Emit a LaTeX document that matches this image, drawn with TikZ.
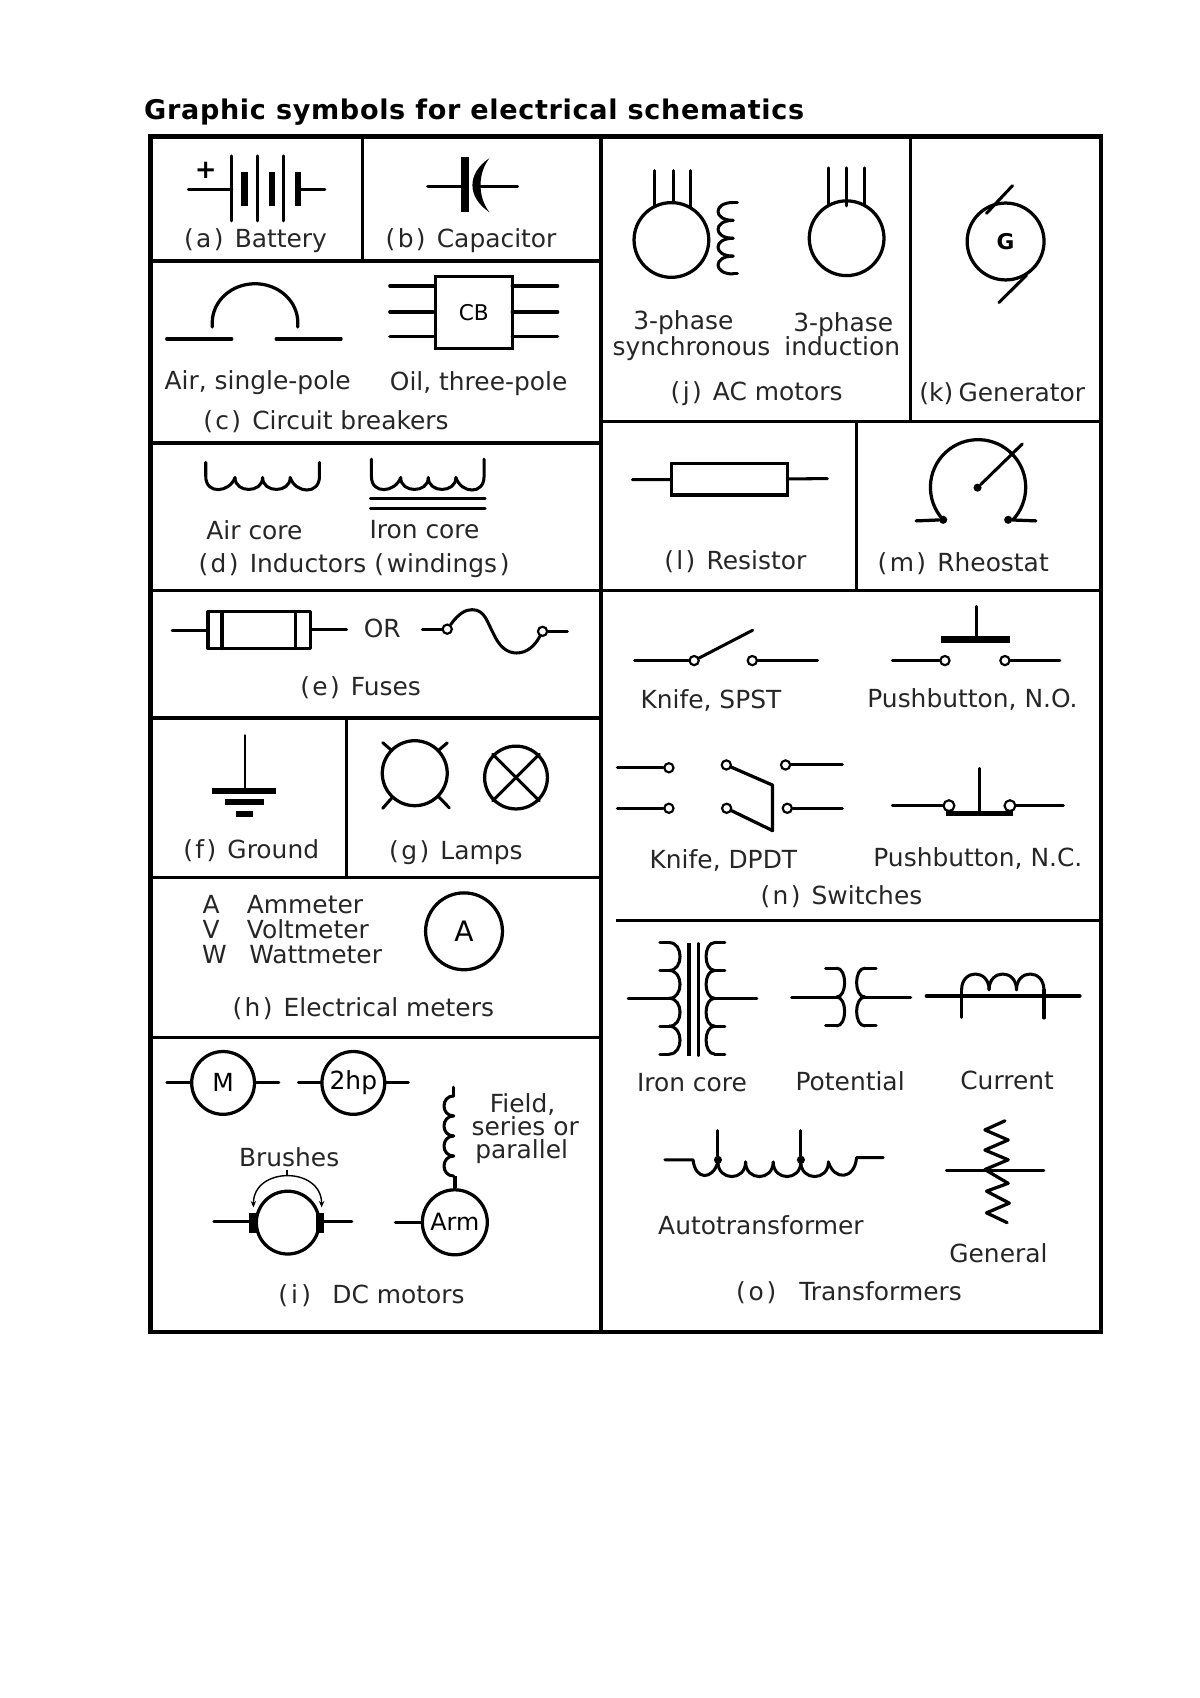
\documentclass[tikz,border=0pt]{standalone}
\usepackage{fontspec}
\setmainfont{DejaVu Sans}
\usetikzlibrary{arrows.meta}
\tikzset{
  frame/.style={line width=4pt,line cap=rect},
  cell/.style={line width=3pt,line cap=rect},
  wire/.style={line width=2.8pt,line cap=round,line join=round},
  thinwire/.style={line width=1.3pt},
  bar/.style={line width=5.5pt},
  lbl/.style={font=\fontsize{23}{25}\selectfont,text=black!85,inner sep=0pt,text height=16pt,text depth=0pt},
  term/.style={circle,draw,line width=2pt,fill=white,inner sep=0pt,minimum size=8.5pt},
  dial/.style={circle,draw,line width=3pt,inner sep=0pt,minimum size=58pt,font=\fontsize{23}{25}\selectfont},
  blob/.style={circle,fill,inner sep=0pt,minimum size=7.5pt}
}
% x, top, bump height, bulge, count
\newcommand{\vcoil}[5]{%
  \foreach \k in {1,...,#5}{
    \draw[wire] (#1,{#2+(\k-1)*#3}) .. controls ({#1+1.33*(#4)},{#2+(\k-1)*#3}) and ({#1+1.33*(#4)},{#2+\k*#3}) .. (#1,{#2+\k*#3});
  }}
% left, y, bump width, bulge, count
\newcommand{\hcoil}[5]{%
  \foreach \k in {1,...,#5}{
    \draw[wire] ({#1+(\k-1)*#3},#2) .. controls ({#1+(\k-1)*#3},{#2+1.33*(#4)}) and ({#1+\k*#3},{#2+1.33*(#4)}) .. ({#1+\k*#3},#2);
  }}
% the wide brackets of the captions
\newcommand{\ptag}[1]{(\kern2.2pt#1\kern2.2pt)\kern3pt\ }
\begin{document}
\begin{tikzpicture}[x=1pt,y=1pt,yscale=-1]
\useasboundingbox (0,0) rectangle (1108,1568);
\node[anchor=base west,inner sep=0pt,font=\fontsize{25}{28}\selectfont\bfseries\addfontfeature{LetterSpace=2.4}] (title) at (133,110) {Graphic symbols for electrical schematics};
% frame and cells
\draw[frame] (139,126) rectangle (1017,1230);
\draw[frame] (555,126) -- (555,1230);
\foreach \yy in {241,409,545,663,810,958} \draw[cell] (139,\yy) -- (555,\yy);
\draw[cell] (335,126) -- (335,241);
\draw[cell] (320,663) -- (320,810);
\draw[cell] (555,389) -- (1017,389);
\draw[cell] (841,126) -- (841,389);
\draw[cell] (555,545) -- (1017,545);
\draw[cell] (791,389) -- (791,545);
\draw[cell] (570,850) -- (1017,850);
% (a) battery
\draw[wire] (174,175) -- (214,175);
\draw[wire] (275,175) -- (300,175);
\foreach \xx in {214,238,262} \draw[wire] (\xx,144) -- (\xx,204);
\foreach \xx in {226,251,275} \draw[line width=6pt] (\xx,159) -- (\xx,190);
\node[font=\fontsize{24}{26}\selectfont\bfseries,inner sep=0pt] (plus) at (190,157) {+};
\node[lbl] (lbatt) at (236,221) {\ptag{a}Battery};
% (b) capacitor
\draw[wire] (395,172) -- (426,172);
\draw[wire] (441,172) -- (478,172);
\draw[line width=7pt] (429.5,145) -- (429.5,196);
\fill (452,146) .. controls (431,160) and (431,182) .. (452,196) .. controls (441,182) and (441,160) .. (452,146) -- cycle;
\node[lbl] (lcap) at (435,221) {\ptag{b}Capacitor};
% (c) breakers
\draw[wire,line width=3pt] (154,313) -- (214,313);
\draw[wire,line width=3pt] (255,313) -- (315,313);
\draw[wire,line width=3pt] (196,302) -- (196,298) arc[start angle=180,end angle=360,x radius=39.5,y radius=36] -- (275,302);
\node[draw,line width=3pt,minimum width=71pt,minimum height=67pt,inner sep=0pt,font=\fontsize{20}{22}\selectfont] (cb) at (437.5,288.5) {CB};
\foreach \yy in {264,288,311} {
  \draw[wire,line width=3pt] (360,\yy) -- (402,\yy);
  \draw[wire,line width=3pt] (473,\yy) -- (515,\yy);
}
\node[lbl] (lair) at (238,352) {Air, single-pole};
\node[lbl] (loil) at (442,353) {Oil, three-pole};
\node[lbl] (lcb) at (301,389) {\ptag{c}Circuit breakers};
% (d) inductors
\draw[wire] (190,427) -- (190,440) .. controls (190,457) and (212,455) .. (217,441);
\hcoil{217}{441}{25.5}{11}{2}
\draw[wire] (268,441) .. controls (273,456) and (295,457) .. (295,440) -- (295,427);
\begin{scope}[shift={(153,0)}]
  \draw[wire] (190,424) -- (190,440) .. controls (190,457) and (212,455) .. (217,441);
  \hcoil{217}{441}{25.5}{11}{2}
  \draw[wire] (268,441) .. controls (273,456) and (294,457) .. (294,440) -- (294,424);
\end{scope}
\draw[wire] (342,460) -- (448,460);
\draw[wire] (342,470) -- (448,470);
\node[lbl] (lacore) at (235,490) {Air core};
\node[lbl] (licore) at (392,489) {Iron core};
\node[lbl] (lind) at (327,521) {\ptag{d}Inductors (\kern2.5pt windings\kern2.5pt)};
% (e) fuses
\draw[wire] (159,582) -- (192,582);
\draw[wire] (287,581) -- (320,581);
\draw[wire,line width=3pt] (192,565) rectangle (287,599);
\draw[wire] (205,565) -- (205,599);
\draw[wire] (273,565) -- (273,599);
\node[lbl] (lor) at (353,581) {OR};
\node[term] (fa) at (413,581) {};
\node[term] (fb) at (501,583) {};
\draw[wire] (390,581) -- (fa);
\draw[wire] (fb) -- (524,583);
\draw[wire] (fa) .. controls (424,566) and (430,563) .. (436,563) .. controls (448,563) and (450,575) .. (455.6,585) .. controls (461,597) and (468,603) .. (477,603) .. controls (487,603) and (494,596) .. (fb);
\node[lbl] (lfuse) at (333,634) {\ptag{e}Fuses};
% (f) ground
\draw[wire,line width=2pt] (226,679) -- (226,730);
\draw[bar] (196,730) -- (255,730);
\draw[bar] (208,741) -- (244,741);
\draw[bar] (218,752) -- (234,752);
\node[lbl] (lgnd) at (232,785) {\ptag{f}Ground};
% (g) lamps
\node[circle,draw,line width=3pt,inner sep=0pt,minimum width=60pt,minimum height=60pt] (lampa) at (383,714) {};
\draw[wire] (353.4,685.8) -- (361.7,693);
\draw[wire] (413,686) -- (404.8,693);
\draw[wire] (353.4,746.4) -- (361.7,737);
\draw[wire] (415,746) -- (404.8,735.6);
\node[circle,draw,line width=3pt,inner sep=0pt,minimum size=58pt] (lampb) at (476.5,718) {};
\draw[wire] (lampb.north west) -- (lampb.south east);
\draw[wire] (lampb.north east) -- (lampb.south west);
\node[lbl] (llamp) at (421,786) {\ptag{g}Lamps};
% (h) meters
\node[lbl] (la) at (195,836) {A};
\node[lbl] (lv) at (195,859) {V};
\node[lbl] (lw) at (198,882) {W};
\node[lbl,anchor=west] (lam) at (227.8,836) {Ammeter};
\node[lbl,anchor=west] (lvm) at (227.8,859) {Voltmeter};
\node[lbl,anchor=west] (lwm) at (230,882) {Wattmeter};
\node[dial,minimum size=71pt,font=\fontsize{26}{28}\selectfont] (meter) at (428.5,860) {A};
\node[lbl] (lmeter) at (335.5,931) {\ptag{h}Electrical meters};
% (i) dc motors
\node[dial] (mm) at (206,1000) {M};
\draw[wire] (154,1000) -- (mm);
\draw[wire] (mm) -- (257.6,1000);
\node[dial] (mhp) at (326.3,1000) {2hp};
\draw[wire] (275.5,1000) -- (mhp);
\draw[wire] (mhp) -- (377,1000);
\node[lbl] (lbrush) at (267,1069) {Brushes};
\draw[thinwire] (265,1080) -- (265,1086);
\draw[thinwire,{Stealth[length=6pt,width=5pt]}-{Stealth[length=6pt,width=5pt]}] (234,1115) .. controls (234,1077) and (297,1077) .. (297,1115);
\node[dial] (marm) at (265.7,1129) {};
\fill (230,1120) rectangle (238,1139);
\fill (292,1120) rectangle (299,1139);
\draw[wire] (197.6,1128) -- (230,1128);
\draw[wire] (299,1128) -- (325,1128);
\node[dial,minimum size=60pt,font=\fontsize{22}{24}\selectfont] (arm) at (420,1128.7) {Arm};
\draw[wire] (365,1128.7) -- (arm);
\draw[line width=4pt] (420,1086) -- (arm);
\draw[wire] (419,1004) -- (419,1012);
\vcoil{419}{1012}{18.5}{-9}{4}
\node[lbl] (lf1) at (482.6,1019) {Field,};
\node[lbl] (lf2) at (485,1041) {series or};
\node[lbl] (lf3) at (481.7,1062) {parallel};
\node[lbl] (ldc) at (343,1196) {(\kern3pt i\kern3pt)\kern5pt\ \ DC motors};
% (j) ac motors
\node[dial,minimum size=69pt] (syn) at (620,221.6) {};
\draw[wire] (604,157.6) -- (604,190);
\draw[wire] (621.7,157.6) -- (621.7,187);
\draw[wire] (637.7,157.6) -- (637.7,192);
\draw[wire] (681,187) -- (677,187);
\draw[wire] (681,253) -- (677,253);
\vcoil{677}{187}{16.5}{-14}{4}
\node[dial,minimum size=69pt] (ind) at (781.8,220) {};
\foreach \xx in {765.5,782,798.7} \draw[wire] (\xx,155) -- (\xx,190);
\node[lbl] (lsa) at (631,296) {3-phase};
\node[lbl] (lsb) at (638.6,320.7) {synchronous};
\node[lbl] (lia) at (778.7,298) {3-phase};
\node[lbl] (lib) at (777.8,320.7) {induction};
\node[lbl] (lac) at (698.7,361.6) {\ptag{j}AC motors};
% (k) generator
\node[dial,minimum size=71pt,font=\fontsize{20}{22}\selectfont\bfseries] (gen) at (928.6,223) {G};
\draw[wire] (935,171.4) -- (911,197);
\draw[wire] (922.4,279.5) -- (948,254);
\node[lbl] (lgen) at (925.5,362.6) {(k)\kern5pt Generator};
% (l) resistor
\node[draw,line width=3pt,minimum width=107pt,minimum height=29pt,inner sep=0pt] (res) at (673.5,442.5) {};
\draw[wire] (584,443) -- (res);
\draw[wire] (res) -- (764,442);
\node[lbl] (lres) at (679,518) {\ptag{l}Resistor};
% (m) rheostat
\draw[wire,line width=3pt] (871,480) arc[start angle=137,end angle=403,radius=44];
\node[blob] (rha) at (871,480) {};
\node[blob] (rhb) at (931,480) {};
\node[blob] (rhc) at (902.7,450.3) {};
\draw[wire,line width=3pt] (846,481) -- (rha);
\draw[wire,line width=3pt] (rhb) -- (956.6,481);
\draw[wire] (rhc) -- (944,410);
\node[lbl] (lrh) at (889.5,520) {\ptag{m}Rheostat};
% (n) switches
\node[term] (ka) at (641,610) {};
\node[term] (kb) at (694.7,610) {};
\draw[wire] (586,610) -- (ka);
\draw[wire] (kb) -- (755,610);
\draw[wire] (ka) -- (695,582);
\node[lbl] (lspst) at (656.5,646) {Knife, SPST};
\node[term] (pa) at (872.6,610) {};
\node[term] (pb) at (928,610) {};
\draw[wire] (824,610) -- (pa);
\draw[wire] (pb) -- (978.8,610);
\draw[line width=6pt] (868.6,590.4) -- (933,590.4);
\draw[wire] (901.5,560) -- (901.5,590);
\node[lbl] (lno) at (898,645) {Pushbutton, N.O.};
\node[term] (da) at (617.7,709) {};
\node[term] (db) at (617.7,746.4) {};
\node[term] (dc) at (670.7,706.4) {};
\node[term] (dd) at (671,746.4) {};
\node[term] (de) at (725.4,706.4) {};
\node[term] (df) at (727,746.4) {};
\draw[wire] (570,709) -- (da);
\draw[wire] (570,746.4) -- (db);
\draw[wire] (de) -- (777.8,706.4);
\draw[wire] (df) -- (777.8,746.4);
\draw[wire,line width=3pt] (dc) -- (713.4,725) -- (713.4,767) -- (dd);
\node[lbl] (ldpdt) at (668,794) {Knife, DPDT};
\node[term,minimum size=10pt] (na) at (876.3,744) {};
\node[term,minimum size=10pt] (nb) at (932.6,744) {};
\draw[wire] (824,744) -- (na);
\draw[wire] (nb) -- (982,744);
\draw[line width=4.5pt] (874,751.6) -- (935,751.6);
\draw[wire] (904.6,709.5) -- (904.6,751);
\node[lbl] (lnc) at (903,792) {Pushbutton, N.C.};
\node[lbl] (lsw) at (777,827.6) {\ptag{n}Switches};
% (o) transformers, iron core
\vcoil{618}{870.4}{25.75}{10}{4}
\foreach \yy in {870.4,896.1,947.6,973.4} \draw[wire] (609.4,\yy) -- (618,\yy);
\draw[wire] (580,921.9) -- (618,921.9);
\draw[line width=3.5pt] (636,871) -- (636,975);
\draw[wire,line width=2pt] (645,871) -- (645,975);
\vcoil{660}{870.4}{25.75}{-8}{4}
\foreach \yy in {870.4,896.1,947.6,973.4} \draw[wire] (660,\yy) -- (669.4,\yy);
\draw[wire] (660,921.9) -- (699,921.9);
\node[lbl] (ltic) at (639,999.7) {Iron core};
% potential
\vcoil{772.5}{894}{26.7}{7.5}{2}
\draw[wire] (762.4,894) -- (772.5,894);
\draw[wire] (762.4,947.4) -- (772.5,947.4);
\draw[wire] (731,920.7) -- (772.5,920.7);
\vcoil{798.7}{894}{26.7}{-7.7}{2}
\draw[wire] (798.7,894) -- (809,894);
\draw[wire] (798.7,947.4) -- (809,947.4);
\draw[wire] (798.7,920.7) -- (841,920.7);
\node[lbl] (lpot) at (785,999) {Potential};
% current
\draw[wire,line width=3.5pt] (855.6,919.7) -- (997,919.7);
\hcoil{888}{914}{25.33}{-14.6}{3}
\draw[wire] (888,914) -- (888,939.4);
\draw[wire,line width=3pt] (964,914) -- (964,940);
\node[lbl] (lcur) at (930,998) {Current};
% autotransformer
\node[blob] (ata) at (663,1071) {};
\node[blob] (atb) at (739.6,1071) {};
\draw[wire] (663,1044) -- (ata);
\draw[wire] (739.6,1044) -- (atb);
\draw[wire] (614,1071) -- (640,1071) .. controls (642,1090) and (658,1090) .. (663,1073);
\hcoil{663}{1073}{25.5}{13.5}{4}
\draw[wire] (765,1073) .. controls (770,1090) and (789,1090) .. (791,1069) -- (815.6,1069);
\node[lbl] (lauto) at (702.7,1132) {Autotransformer};
% general
\draw[wire] (874,1081) -- (964,1081);
\draw[wire,line width=3pt] (928,1035) -- (909.5,1043.4) -- (931,1052.7) -- (909.5,1062) -- (931,1071) -- (909.5,1080) -- (931,1092.7) -- (911,1100) -- (932,1111) -- (911,1120) -- (930,1129);
\node[lbl] (lgen2) at (922,1158) {General};
\node[lbl] (ltr) at (784,1192.7) {(\kern2.5pt o\kern2.5pt)\kern14pt\ Transformers};
\end{tikzpicture}
\end{document}
